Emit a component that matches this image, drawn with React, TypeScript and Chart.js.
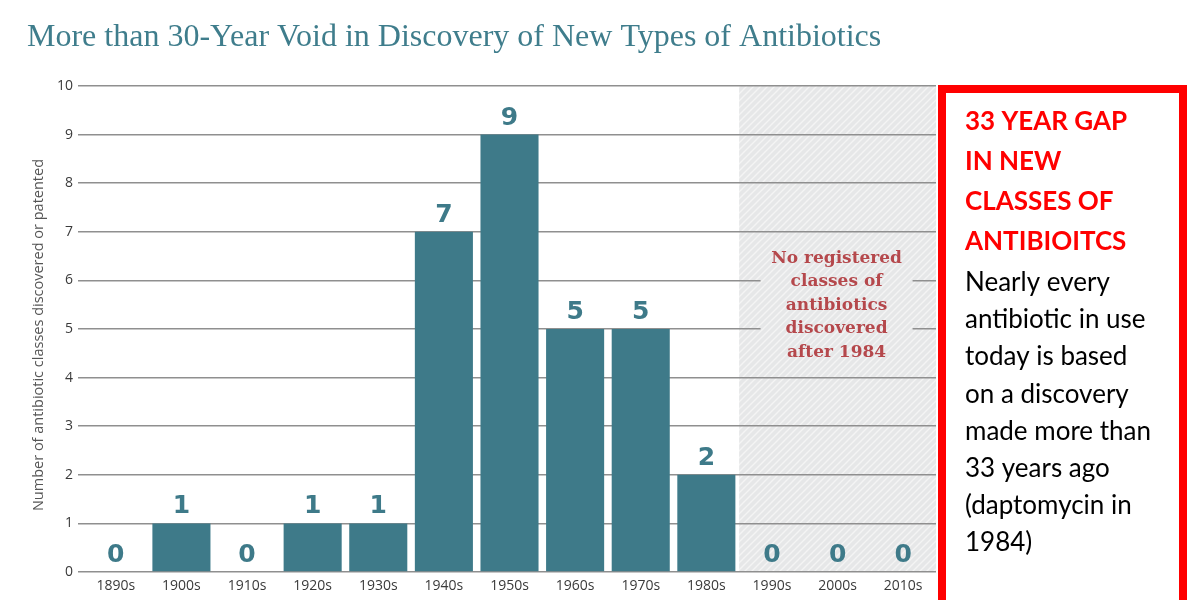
import React, { useEffect, useRef } from "react";
import { Chart, registerables } from "chart.js";

Chart.register(...registerables);

const decades = ["1890s", "1900s", "1910s", "1920s", "1930s", "1940s", "1950s", "1960s", "1970s", "1980s", "1990s", "2000s", "2010s"];
const classesDiscovered = [0, 1, 0, 1, 1, 7, 9, 5, 5, 2, 0, 0, 0];
const yTicks = [0, 1, 2, 3, 4, 5, 6, 7, 8, 9, 10];
const firstVoidIndex = 10;

const titleText = "More than 30-Year Void in Discovery of New Types of Antibiotics";
const yTitleText = "Number of antibiotic classes discovered or patented";
const voidNote = ["No registered", "classes of", "antibiotics", "discovered", "after 1984"];
const boxHeading = ["33 YEAR GAP", "IN NEW", "CLASSES OF", "ANTIBIOITCS"];
const boxBody = ["Nearly every", "antibiotic in use", "today is based", "on a discovery", "made more than", "33 years ago", "(daptomycin in", "1984)"];

const TEAL = "#3e7a89";

function makeHatch(ctx: CanvasRenderingContext2D): CanvasPattern | string {
  const c = document.createElement("canvas");
  c.width = 7;
  c.height = 7;
  const g = c.getContext("2d");
  if (!g) return "#e7e8e9";
  g.fillStyle = "#e6e7e8";
  g.fillRect(0, 0, 7, 7);
  g.strokeStyle = "#f4f4f4";
  g.lineWidth = 1.4;
  g.beginPath();
  g.moveTo(-1, 8);
  g.lineTo(8, -1);
  g.moveTo(-1, 1);
  g.lineTo(1, -1);
  g.moveTo(6, 8);
  g.lineTo(8, 6);
  g.stroke();
  return ctx.createPattern(c, "repeat") || "#e7e8e9";
}

export default function App() {
  const ref = useRef<HTMLCanvasElement | null>(null);

  useEffect(() => {
    if (!ref.current) return;
    const ctx0 = ref.current.getContext("2d");
    if (!ctx0) return;
    const hatch = makeHatch(ctx0);

    const voidRegion = (chart: any) => {
      const x = chart.scales.x;
      const step = x.getPixelForTick(1) - x.getPixelForTick(0);
      const left = x.getPixelForTick(firstVoidIndex) - step / 2;
      return { left, right: chart.chartArea.right, top: chart.chartArea.top, bottom: chart.chartArea.bottom, step };
    };

    const decor = {
      id: "decor",
      beforeDraw(chart: any) {
        const ctx = chart.ctx;
        const r = voidRegion(chart);
        ctx.save();
        ctx.fillStyle = hatch;
        ctx.fillRect(r.left, r.top, r.right - r.left, r.bottom - r.top - 1);
        ctx.restore();
      },
      afterDatasetsDraw(chart: any) {
        const ctx = chart.ctx;
        const x = chart.scales.x;
        const y = chart.scales.y;
        ctx.save();

        // note in void region
        const cx = x.getPixelForTick(firstVoidIndex + 1) - 1;
        const noteTop = y.getPixelForValue(6.45);
        ctx.fillStyle = hatch;
        ctx.fillRect(cx - 76, noteTop - 14, 152, 124);
        ctx.fillStyle = "#b5484c";
        ctx.font = "bold 17px 'DejaVu Serif'";
        ctx.textAlign = "center";
        ctx.textBaseline = "middle";
        voidNote.forEach((t, i) => ctx.fillText(t, cx, noteTop + i * 23.5));

        // value labels
        const meta = chart.getDatasetMeta(0);
        ctx.fillStyle = TEAL;
        ctx.font = "bold 25px 'DejaVu Sans'";
        ctx.textAlign = "center";
        ctx.textBaseline = "alphabetic";
        meta.data.forEach((bar: any, i: number) => {
          ctx.fillText(String(classesDiscovered[i]), bar.x, bar.y - 10);
        });

        // title
        ctx.fillStyle = "#3f7d8c";
        ctx.font = "32px 'Liberation Serif'";
        ctx.textAlign = "left";
        ctx.fillText(titleText, 27, 46);

        // y title
        ctx.save();
        ctx.translate(39, 335);
        ctx.rotate(-Math.PI / 2);
        ctx.fillStyle = "#555";
        ctx.font = "14.5px 'Open Sans'";
        ctx.textAlign = "center";
        ctx.textBaseline = "middle";
        ctx.fillText(yTitleText, 0, 0);
        ctx.restore();

        // red box
        ctx.strokeStyle = "#ff0000";
        ctx.lineWidth = 8;
        ctx.strokeRect(942, 89, 241, 560);
        ctx.textAlign = "left";
        ctx.fillStyle = "#ff0000";
        ctx.font = "bold 26px Lato";
        boxHeading.forEach((t, i) => ctx.fillText(t, 965, 130 + i * 40));
        ctx.fillStyle = "#000";
        ctx.font = "26px Lato";
        boxBody.forEach((t, i) => ctx.fillText(t, 965, 291 + i * 37.2));
        ctx.restore();
      },
    };

    const chart = new Chart(ref.current, {
      type: "bar",
      data: {
        labels: decades,
        datasets: [
          {
            data: classesDiscovered,
            backgroundColor: TEAL,
            barPercentage: 0.885,
            categoryPercentage: 1,
          },
        ],
      },
      options: {
        animation: false,
        responsive: true,
        maintainAspectRatio: false,
        layout: { padding: { left: 0, top: 86, right: 264, bottom: 0 } },
        plugins: { legend: { display: false }, tooltip: { enabled: false }, title: { display: false } },
        scales: {
          x: {
            grid: { display: false, drawTicks: false },
            border: { display: false },
            ticks: { color: "#3a3a3a", font: { family: "'Open Sans'", size: 14 }, padding: 6, maxRotation: 0 },
            afterFit: (s: any) => {
              s.height = 28;
            },
          },
          y: {
            min: 0,
            max: 10,
            afterBuildTicks: (s: any) => {
              s.ticks = yTicks.map((v) => ({ value: v }));
            },
            grid: { color: "#8f8f8f", lineWidth: 1.5, tickLength: 5, drawTicks: true },
            border: { display: false },
            ticks: { color: "#3a3a3a", font: { family: "'Open Sans'", size: 14 }, padding: 5 },
            afterFit: (s: any) => {
              s.width = 83;
            },
          },
        },
      },
      plugins: [decor],
    });
    return () => chart.destroy();
  }, []);

  return (
    <div style={{ position: "absolute", left: 0, top: 0, width: 1200, height: 600, background: "#fff" }}>
      <canvas ref={ref} />
    </div>
  );
}
